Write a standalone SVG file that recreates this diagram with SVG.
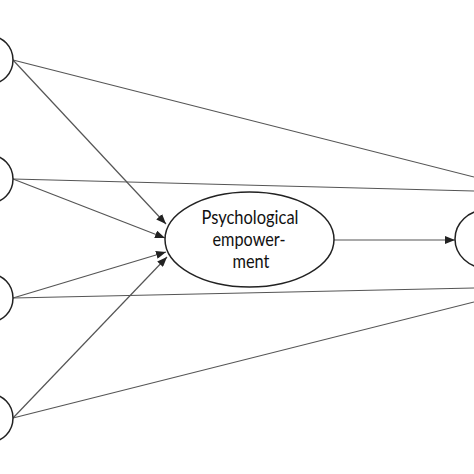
<svg xmlns="http://www.w3.org/2000/svg" width="474" height="474" viewBox="0 0 474 474">
<style>
.node{fill:#fff;stroke:#222;stroke-width:1.5}
.conn{stroke:#555;stroke-width:1.2;fill:none}
.lbl{font-family:Lato,"Liberation Sans",sans-serif;font-size:19px;fill:#111;text-anchor:middle}
</style>
<defs>
<marker id="ah" markerWidth="10" markerHeight="8" refX="10" refY="4" orient="auto" markerUnits="userSpaceOnUse">
<path d="M0,0 L10,4 L0,8 Z" fill="#222"/>
</marker>
</defs>
<rect width="474" height="474" fill="#fff"/>
<g id="connectors">
<line class="conn" x1="13" y1="60" x2="474" y2="177"/>
<line class="conn" x1="13" y1="179" x2="474" y2="191"/>
<line class="conn" x1="13" y1="298" x2="474" y2="288"/>
<line class="conn" x1="13" y1="418" x2="474" y2="302"/>
<line class="conn" x1="13" y1="60" x2="166" y2="224" marker-end="url(#ah)"/>
<line class="conn" x1="13" y1="179" x2="165" y2="238" marker-end="url(#ah)"/>
<line class="conn" x1="13" y1="298" x2="166" y2="252" marker-end="url(#ah)"/>
<line class="conn" x1="13" y1="418" x2="167" y2="257" marker-end="url(#ah)"/>
<line class="conn" x1="334" y1="240" x2="455" y2="240" marker-end="url(#ah)"/>
</g>
<g id="n1"><ellipse class="node" cx="-10" cy="60" rx="23" ry="24"/></g>
<g id="n2"><ellipse class="node" cx="-10" cy="179" rx="23" ry="24"/></g>
<g id="n3"><ellipse class="node" cx="-10" cy="298" rx="23" ry="24"/></g>
<g id="n4"><ellipse class="node" cx="-10" cy="418" rx="23" ry="24"/></g>
<g id="pe">
<ellipse class="node" cx="249.5" cy="239.5" rx="84.5" ry="47.5"/>
<text class="lbl" x="250" y="224" textLength="97" lengthAdjust="spacingAndGlyphs">Psychological</text>
<text class="lbl" x="249" y="246" textLength="73" lengthAdjust="spacingAndGlyphs">empower-</text>
<text class="lbl" x="251" y="268" textLength="37" lengthAdjust="spacingAndGlyphs">ment</text>
</g>
<g id="out"><ellipse class="node" cx="486" cy="239" rx="31" ry="29"/></g>
</svg>
